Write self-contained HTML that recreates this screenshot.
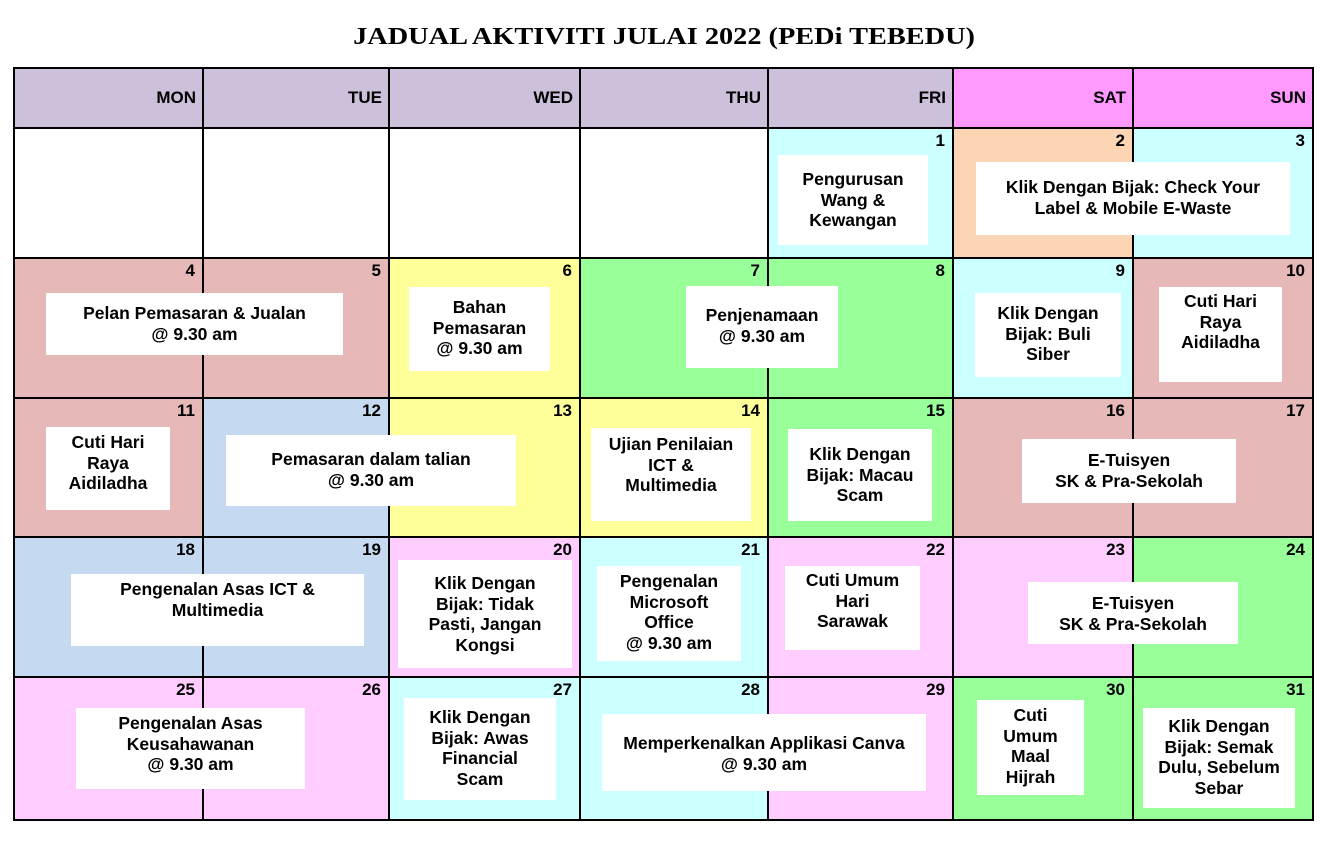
<!DOCTYPE html>
<html><head><meta charset="utf-8"><style>
body{margin:0;width:1329px;height:845px;background:#fff;position:relative;overflow:hidden;font-family:"Liberation Sans",Arial,sans-serif;font-weight:bold;}
.t{position:absolute;left:0;width:1329px;top:24px;text-align:center;font-family:"Liberation Serif",serif;font-size:24px;font-weight:bold;transform:scaleX(1.18);transform-origin:667px 0;}
.c{position:absolute;}
.l{position:absolute;background:#000;}
.n{position:absolute;font-size:17px;text-align:right;line-height:20px;}
.h{position:absolute;font-size:17px;text-align:right;line-height:20px;top:88px;}
.b{position:absolute;background:#fff;text-align:center;font-size:17.5px;line-height:20.7px;box-sizing:border-box;white-space:nowrap;}
</style></head><body>
<div class="t">JADUAL AKTIVITI JULAI 2022 (PEDi TEBEDU)</div>
<div id="g"></div>
<script>
const X=[14,203,389,580,768,953,1133,1313],Y=[68,128,258,398,537,677,820];
const W='#fff',C='#ccffff',P='#fcd5b4',R='#e6b8b7',Yl='#ffff99',G='#99ff99',B='#c5d9f1',K='#ffccff';
const cols=[[W,W,W,W,C,P,C],[R,R,Yl,G,G,C,R],[R,B,Yl,Yl,G,R,R],[B,B,K,C,K,K,G],[K,K,C,C,K,G,G]];
let h='';
const hd=['MON','TUE','WED','THU','FRI','SAT','SUN'];
for(let i=0;i<7;i++){h+=`<div class="c" style="left:${X[i]}px;top:68px;width:${X[i+1]-X[i]}px;height:60px;background:${i<5?'#ccc0da':'#ff99ff'}"></div>`;
h+=`<div class="h" style="left:${X[i]}px;width:${X[i+1]-X[i]-7}px">${hd[i]}</div>`;}
let d=-4;
for(let r=0;r<5;r++)for(let i=0;i<7;i++){d++;h+=`<div class="c" style="left:${X[i]}px;top:${Y[r+1]}px;width:${X[i+1]-X[i]}px;height:${Y[r+2]-Y[r+1]}px;background:${cols[r][i]}"></div>`;
if(d>=1)h+=`<div class="n" style="left:${X[i]}px;width:${X[i+1]-X[i]-8}px;top:${Y[r+1]+3}px">${d}</div>`;}
for(const x of X)h+=`<div class="l" style="left:${x-1}px;top:67px;width:2px;height:754px"></div>`;
for(const y of Y)h+=`<div class="l" style="left:13px;top:${y-1}px;width:1301px;height:2px"></div>`;
const bx=[[778,155,150,90,14,'Pengurusan<br>Wang &amp;<br>Kewangan'],[976,162,314,73,15,'Klik Dengan Bijak: Check Your<br>Label &amp; Mobile E-Waste'],
[46,293,297,62,10,'Pelan Pemasaran &amp; Jualan<br>@ 9.30 am'],[409,287,141,84,10,'Bahan<br>Pemasaran<br>@ 9.30 am'],[686,286,152,82,19,'Penjenamaan<br>@ 9.30 am'],
[975,293,146,84,10,'Klik Dengan<br>Bijak: Buli<br>Siber'],[1159,287,123,95,4,'Cuti Hari<br>Raya<br>Aidiladha'],[46,427,124,83,5,'Cuti Hari<br>Raya<br>Aidiladha'],
[226,435,290,71,14,'Pemasaran dalam talian<br>@ 9.30 am'],[591,428,160,93,6,'Ujian Penilaian<br>ICT &amp;<br>Multimedia'],[788,429,144,92,15,'Klik Dengan<br>Bijak: Macau<br>Scam'],
[1022,439,214,64,11,'E-Tuisyen<br>SK &amp; Pra-Sekolah'],[71,574,293,72,5,'Pengenalan Asas ICT &amp;<br>Multimedia'],[398,560,174,108,13,'Klik Dengan<br>Bijak: Tidak<br>Pasti, Jangan<br>Kongsi'],
[597,566,144,95,5,'Pengenalan<br>Microsoft<br>Office<br>@ 9.30 am'],[785,566,135,84,4,'Cuti Umum<br>Hari<br>Sarawak'],[1028,582,210,62,11,'E-Tuisyen<br>SK &amp; Pra-Sekolah'],
[76,708,229,81,5,'Pengenalan Asas<br>Keusahawanan<br>@ 9.30 am'],[404,698,152,102,9,'Klik Dengan<br>Bijak: Awas<br>Financial<br>Scam'],[602,714,324,77,19,'Memperkenalkan Applikasi Canva<br>@ 9.30 am'],
[977,700,107,95,5,'Cuti<br>Umum<br>Maal<br>Hijrah'],[1143,708,152,100,8,'Klik Dengan<br>Bijak: Semak<br>Dulu, Sebelum<br>Sebar']];
for(const b of bx)h+=`<div class="b" style="left:${b[0]}px;top:${b[1]}px;width:${b[2]}px;height:${b[3]}px;padding-top:${b[4]}px">${b[5]}</div>`;
document.getElementById('g').innerHTML=h;
</script>
</body></html>
